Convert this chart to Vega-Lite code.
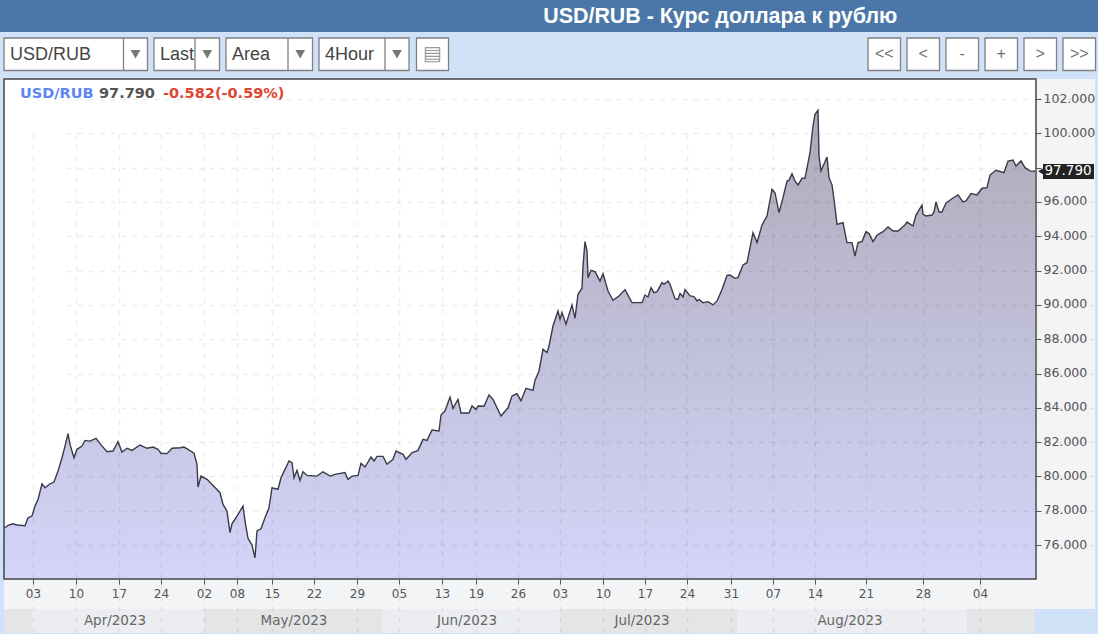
{"$schema":"https://vega.github.io/schema/vega-lite/v6.json","padding":0,"spacing":0,"background":"#cfe2f8","config":{"view":{"stroke":null},"font":"DejaVu Sans"},"datasets":{"series":[{"n":0,"v":77.0},{"n":1,"v":77.01},{"n":4,"v":77.15},{"n":9,"v":77.24},{"n":13,"v":77.17},{"n":21,"v":77.13},{"n":24,"v":77.59},{"n":28,"v":77.69},{"n":31,"v":78.27},{"n":34,"v":78.66},{"n":38,"v":79.57},{"n":41,"v":79.34},{"n":46,"v":79.57},{"n":50,"v":79.67},{"n":54,"v":80.31},{"n":58,"v":81.09},{"n":61,"v":81.77},{"n":64,"v":82.49},{"n":66,"v":81.87},{"n":70,"v":81.09},{"n":73,"v":81.58},{"n":78,"v":81.77},{"n":81,"v":82.1},{"n":86,"v":82.06},{"n":92,"v":82.22},{"n":96,"v":81.91},{"n":103,"v":81.44},{"n":109,"v":81.48},{"n":114,"v":82.02},{"n":118,"v":81.42},{"n":123,"v":81.64},{"n":128,"v":81.52},{"n":136,"v":81.83},{"n":143,"v":81.64},{"n":149,"v":81.71},{"n":154,"v":81.58},{"n":157,"v":81.35},{"n":163,"v":81.33},{"n":168,"v":81.64},{"n":176,"v":81.67},{"n":180,"v":81.71},{"n":184,"v":81.58},{"n":190,"v":81.35},{"n":193,"v":80.71},{"n":194,"v":79.38},{"n":197,"v":80.02},{"n":203,"v":79.83},{"n":216,"v":79.05},{"n":219,"v":78.37},{"n":223,"v":77.98},{"n":226,"v":76.72},{"n":228,"v":77.24},{"n":233,"v":77.69},{"n":239,"v":78.27},{"n":241,"v":77.4},{"n":244,"v":76.39},{"n":248,"v":76.0},{"n":249,"v":75.75},{"n":251,"v":75.26},{"n":253,"v":76.82},{"n":257,"v":76.95},{"n":261,"v":77.59},{"n":265,"v":78.17},{"n":268,"v":79.34},{"n":274,"v":79.25},{"n":277,"v":79.92},{"n":281,"v":80.41},{"n":285,"v":80.9},{"n":288,"v":80.8},{"n":290,"v":79.92},{"n":293,"v":80.35},{"n":296,"v":79.77},{"n":299,"v":80.27},{"n":303,"v":80.06},{"n":313,"v":80.02},{"n":319,"v":80.27},{"n":326,"v":80.02},{"n":331,"v":80.12},{"n":341,"v":80.22},{"n":344,"v":79.83},{"n":348,"v":80.02},{"n":354,"v":80.06},{"n":357,"v":80.76},{"n":361,"v":80.55},{"n":367,"v":81.13},{"n":370,"v":80.9},{"n":373,"v":81.17},{"n":379,"v":81.17},{"n":383,"v":80.71},{"n":389,"v":81.0},{"n":392,"v":81.48},{"n":399,"v":81.29},{"n":402,"v":81.0},{"n":408,"v":81.38},{"n":414,"v":81.52},{"n":419,"v":82.16},{"n":423,"v":82.1},{"n":428,"v":82.71},{"n":435,"v":82.65},{"n":437,"v":83.58},{"n":441,"v":83.81},{"n":446,"v":84.63},{"n":449,"v":83.97},{"n":454,"v":84.49},{"n":457,"v":83.7},{"n":465,"v":83.7},{"n":468,"v":84.11},{"n":472,"v":83.91},{"n":474,"v":84.11},{"n":480,"v":84.09},{"n":485,"v":84.75},{"n":489,"v":84.49},{"n":497,"v":83.52},{"n":504,"v":84.0},{"n":508,"v":84.69},{"n":513,"v":84.82},{"n":517,"v":84.4},{"n":522,"v":85.14},{"n":529,"v":85.02},{"n":531,"v":85.6},{"n":535,"v":86.15},{"n":539,"v":87.41},{"n":543,"v":87.22},{"n":545,"v":87.6},{"n":549,"v":88.77},{"n":554,"v":89.64},{"n":556,"v":89.16},{"n":558,"v":89.55},{"n":562,"v":88.87},{"n":568,"v":90.0},{"n":571,"v":89.22},{"n":574,"v":90.62},{"n":578,"v":90.97},{"n":579,"v":92.27},{"n":581,"v":93.69},{"n":583,"v":93.14},{"n":584,"v":91.59},{"n":587,"v":92.02},{"n":591,"v":91.94},{"n":596,"v":91.39},{"n":599,"v":91.82},{"n":604,"v":90.81},{"n":609,"v":90.27},{"n":615,"v":90.52},{"n":621,"v":90.89},{"n":628,"v":90.13},{"n":638,"v":90.13},{"n":641,"v":90.58},{"n":644,"v":90.46},{"n":647,"v":91.0},{"n":650,"v":90.71},{"n":653,"v":90.77},{"n":658,"v":91.3},{"n":660,"v":91.2},{"n":664,"v":91.39},{"n":666,"v":91.2},{"n":671,"v":90.36},{"n":674,"v":90.32},{"n":676,"v":90.67},{"n":679,"v":90.46},{"n":681,"v":90.9},{"n":686,"v":90.52},{"n":690,"v":90.48},{"n":693,"v":90.23},{"n":695,"v":90.32},{"n":699,"v":90.13},{"n":704,"v":90.19},{"n":709,"v":90.0},{"n":713,"v":90.23},{"n":718,"v":90.9},{"n":723,"v":91.72},{"n":726,"v":91.74},{"n":731,"v":91.55},{"n":734,"v":91.59},{"n":739,"v":92.33},{"n":743,"v":92.46},{"n":746,"v":93.33},{"n":749,"v":94.21},{"n":753,"v":93.63},{"n":758,"v":94.66},{"n":763,"v":95.18},{"n":768,"v":96.74},{"n":771,"v":96.54},{"n":775,"v":95.38},{"n":779,"v":96.25},{"n":783,"v":97.22},{"n":785,"v":97.26},{"n":788,"v":97.65},{"n":791,"v":97.22},{"n":794,"v":96.99},{"n":798,"v":97.38},{"n":801,"v":97.38},{"n":806,"v":98.87},{"n":809,"v":100.43},{"n":811,"v":101.11},{"n":814,"v":101.34},{"n":815,"v":98.68},{"n":817,"v":97.81},{"n":823,"v":98.62},{"n":825,"v":97.42},{"n":828,"v":97.0},{"n":830,"v":96.16},{"n":833,"v":94.69},{"n":839,"v":94.79},{"n":843,"v":93.63},{"n":848,"v":93.63},{"n":851,"v":92.85},{"n":854,"v":93.63},{"n":858,"v":93.69},{"n":862,"v":94.27},{"n":865,"v":94.16},{"n":869,"v":93.69},{"n":873,"v":94.06},{"n":879,"v":94.27},{"n":884,"v":94.54},{"n":889,"v":94.31},{"n":894,"v":94.31},{"n":901,"v":94.66},{"n":903,"v":94.83},{"n":909,"v":94.6},{"n":912,"v":95.24},{"n":918,"v":95.82},{"n":919,"v":95.3},{"n":922,"v":95.18},{"n":928,"v":95.24},{"n":930,"v":95.42},{"n":932,"v":96.0},{"n":935,"v":95.42},{"n":938,"v":95.42},{"n":942,"v":95.95},{"n":948,"v":96.19},{"n":954,"v":96.41},{"n":959,"v":96.0},{"n":962,"v":96.06},{"n":967,"v":96.49},{"n":973,"v":96.41},{"n":978,"v":96.8},{"n":983,"v":96.84},{"n":986,"v":97.57},{"n":992,"v":97.85},{"n":1000,"v":97.71},{"n":1004,"v":98.39},{"n":1009,"v":98.45},{"n":1012,"v":98.1},{"n":1017,"v":98.39},{"n":1021,"v":98.0},{"n":1026,"v":97.81},{"n":1031,"v":97.79}],"months":[{"start":0,"end":28,"shade":"a"},{"start":28,"end":200,"shade":"b","label":"Apr/2023","mid":111},{"start":200,"end":378,"shade":"a","label":"May/2023","mid":290},{"start":378,"end":556,"shade":"b","label":"Jun/2023","mid":463},{"start":556,"end":733,"shade":"a","label":"Jul/2023","mid":638},{"start":733,"end":963,"shade":"b","label":"Aug/2023","mid":846},{"start":963,"end":1031,"shade":"a"}]},"vconcat":[{"width":1098,"height":32,"view":{"fill":"#4a77a8","stroke":null},"data":{"values":[{"label":"USD/RUB - Курс доллара к рублю"}]},"mark":{"type":"text","font":"Liberation Sans","fontWeight":"bold","fontSize":21.4,"color":"#ffffff","align":"center","baseline":"middle","dy":1},"encoding":{"text":{"field":"label"},"x":{"datum":0.656,"scale":{"domain":[0,1],"range":[0,1098]},"axis":null}}},{"width":1098,"height":46,"layer":[{"data":{"values":[{"lo":0,"hi":2},{"lo":3,"hi":5},{"lo":6,"hi":8},{"lo":9,"hi":11},{"lo":12,"hi":13},{"lo":14,"hi":15},{"lo":16,"hi":17},{"lo":18,"hi":19},{"lo":20,"hi":21},{"lo":22,"hi":23},{"lo":24,"hi":25}]},"mark":{"type":"rect","fill":"#ffffff","stroke":"#808080","strokeWidth":1.3},"encoding":{"x":{"field":"lo","type":"quantitative","axis":null,"scale":{"nice":false,"zero":false,"domain":[0,1,2,3,4,5,6,7,8,9,10,11,12,13,14,15,16,17,18,19,20,21,22,23,24,25],"range":[4,123.5,147.5,154,195,219.5,226,288,312.5,319,385,409,416.5,448.5,868,900.5,907,939.5,946,978.5,985,1017.5,1024,1056.5,1063,1095.5]}},"x2":{"field":"hi"},"y":{"datum":0,"axis":null,"scale":{"domain":[0,1],"range":[38.5,6]}},"y2":{"datum":1}}},{"data":{"values":[{"lo":1},{"lo":4},{"lo":7},{"lo":10}]},"mark":{"type":"rule","stroke":"#808080","strokeWidth":1.3},"encoding":{"x":{"field":"lo","type":"quantitative","axis":null},"y":{"datum":0,"axis":null},"y2":{"datum":1}}},{"data":{"values":[{"lo":0,"label":"USD/RUB"},{"lo":3,"label":"Last"},{"lo":6,"label":"Area"},{"lo":9,"label":"4Hour"}]},"mark":{"type":"text","font":"Liberation Sans","fontSize":18,"color":"#444444","align":"left","baseline":"middle","dx":6,"dy":1},"encoding":{"x":{"field":"lo","type":"quantitative","axis":null},"y":{"datum":0.5,"axis":null},"text":{"field":"label"}}},{"data":{"values":[{"lo":1.5},{"lo":4.5},{"lo":7.5},{"lo":10.5}]},"mark":{"type":"point","shape":"triangle-down","filled":true,"fill":"#777777","opacity":1,"size":95},"encoding":{"x":{"field":"lo","type":"quantitative","axis":null},"y":{"datum":0.5,"axis":null}}},{"data":{"values":[{"lo":14.5,"label":"<<"},{"lo":16.5,"label":"<"},{"lo":18.5,"label":"-"},{"lo":20.5,"label":"+"},{"lo":22.5,"label":">"},{"lo":24.5,"label":">>"}]},"mark":{"type":"text","font":"Liberation Sans","fontSize":16,"color":"#707070","align":"center","baseline":"middle"},"encoding":{"x":{"field":"lo","type":"quantitative","axis":null},"y":{"datum":0.5,"axis":null},"text":{"field":"label"}}},{"data":{"values":[{"lo":12.5,"label":"▤"}]},"mark":{"type":"text","fontSize":20,"color":"#999999","align":"center","baseline":"middle"},"encoding":{"x":{"field":"lo","type":"quantitative","axis":null},"y":{"datum":0.5,"axis":null},"text":{"field":"label"}}}]},{"width":1098,"height":554,"layer":[{"data":{"values":[{"part":"panel"}]},"mark":{"type":"rect","fill":"#f3f4f6"},"encoding":{"x":{"datum":0,"scale":{"domain":[0,1032],"range":[4,1036],"nice":false,"zero":false},"axis":{"orient":"bottom","offset":-54,"title":null,"zindex":1,"values":[29,72,115,157,200,233,268,310,353,395,438,472,514,556,599,641,683,727,769,811,862,919,976],"labelExpr":"{'29':'03','72':'10','115':'17','157':'24','200':'02','233':'08','268':'15','310':'22','353':'29','395':'05','438':'13','472':'19','514':'26','556':'03','599':'10','641':'17','683':'24','727':'31','769':'07','811':'14','862':'21','919':'28','976':'04'}[datum.value]","domain":false,"tickColor":"#555555","tickSize":5,"labelColor":"#555555","labelFontSize":12,"labelPadding":4,"grid":true,"gridColor":"#000000","gridOpacity":0.07,"gridDash":[5,6],"gridWidth":1.5,"labelFlush":false,"labelOverlap":false}},"x2":{"datum":1091},"y":{"datum":103.17,"scale":{"domain":[74.02,103.17],"range":[500,0],"nice":false,"zero":false},"axis":{"orient":"right","offset":-62,"title":null,"zindex":1,"values":[76,78,80,82,84,86,88,90,92,94,96,98,100,102],"labelExpr":"datum.value == 98 ? '' : format(datum.value, '.3f')","domain":false,"tickColor":"#555555","tickSize":5,"labelColor":"#555555","labelFontSize":12.5,"labelPadding":2,"labelOffset":-1,"grid":true,"gridColor":"#000000","gridOpacity":0.07,"gridDash":[5,6],"gridWidth":1.5,"labelOverlap":false}},"y2":{"datum":72.27}}},{"data":{"values":[{"part":"plot"}]},"mark":{"type":"rect","fill":"#ffffff"},"encoding":{"x":{"datum":0},"x2":{"datum":1032},"y":{"datum":103.17},"y2":{"datum":74.02}}},{"data":{"name":"months"},"mark":{"type":"rect"},"encoding":{"x":{"field":"start","type":"quantitative"},"x2":{"field":"end"},"y":{"datum":72.27},"y2":{"datum":70.87},"color":{"field":"shade","type":"nominal","legend":null,"scale":{"domain":["a","b"],"range":["#e4e5e7","#ecedf0"]}}}},{"data":{"name":"months"},"transform":[{"filter":"datum.label"}],"mark":{"type":"text","fontSize":13.5,"color":"#666666","align":"center","baseline":"middle"},"encoding":{"x":{"field":"mid","type":"quantitative"},"y":{"datum":71.57},"text":{"field":"label"}}},{"data":{"name":"series"},"mark":{"type":"area","opacity":0.95,"interpolate":"linear","fill":{"gradient":"linear","x1":0,"y1":0,"x2":0,"y2":1,"stops":[{"offset":0,"color":"#a9a7b5"},{"offset":1,"color":"#d2d2fa"}]}},"encoding":{"x":{"field":"n","type":"quantitative"},"y":{"field":"v","type":"quantitative"},"y2":{"datum":74.02}}},{"data":{"name":"series"},"mark":{"type":"line","stroke":"#3a3a48","strokeWidth":1.4,"interpolate":"linear"},"encoding":{"x":{"field":"n","type":"quantitative"},"y":{"field":"v","type":"quantitative"}}},{"data":{"values":[{"part":"frame"}]},"mark":{"type":"rect","fill":null,"stroke":"#444444","strokeWidth":1.5},"encoding":{"x":{"datum":0},"x2":{"datum":1032},"y":{"datum":103.17},"y2":{"datum":74.02}}},{"data":{"values":[{"last":97.79}]},"mark":{"type":"rect","fill":"#222222"},"encoding":{"x":{"datum":1039},"x2":{"datum":1090},"y":{"datum":98.22},"y2":{"datum":97.34}}},{"data":{"values":[{"last":97.79}]},"mark":{"type":"point","shape":"triangle-left","filled":true,"fill":"#222222","opacity":1,"size":45},"encoding":{"x":{"datum":1037},"y":{"field":"last","type":"quantitative"}}},{"data":{"values":[{"last":97.79,"label":"97.790"}]},"mark":{"type":"text","fontSize":13.5,"color":"#ffffff","align":"center","baseline":"middle"},"encoding":{"x":{"datum":1064},"y":{"field":"last","type":"quantitative"},"text":{"field":"label"}}},{"data":{"values":[{"label":"USD/RUB"}]},"mark":{"type":"text","fontSize":14.5,"fontWeight":"bold","color":"#5c86f2","align":"left","baseline":"middle"},"encoding":{"x":{"datum":16},"y":{"datum":102.3},"text":{"field":"label"}}},{"data":{"values":[{"label":"97.790"}]},"mark":{"type":"text","fontSize":14.5,"fontWeight":"bold","color":"#555555","align":"left","baseline":"middle"},"encoding":{"x":{"datum":95},"y":{"datum":102.3},"text":{"field":"label"}}},{"data":{"values":[{"label":"-0.582(-0.59%)"}]},"mark":{"type":"text","fontSize":14.5,"fontWeight":"bold","color":"#e04530","align":"left","baseline":"middle"},"encoding":{"x":{"datum":159},"y":{"datum":102.3},"text":{"field":"label"}}}]}]}
